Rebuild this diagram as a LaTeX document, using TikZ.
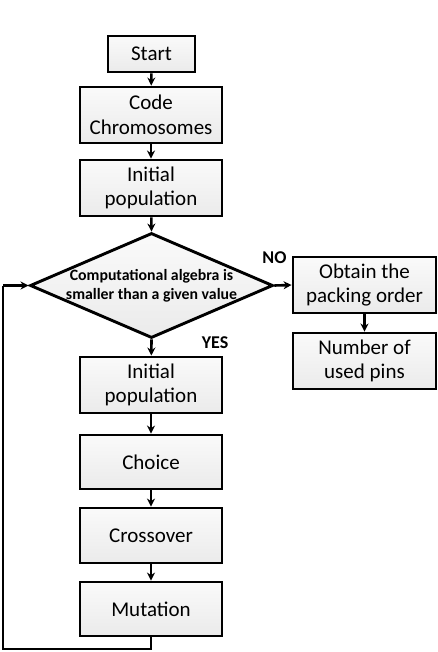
\documentclass[tikz,border=0pt]{standalone}
\usepackage{fontspec}
\setmainfont{Carlito}
\usetikzlibrary{shapes.geometric,arrows.meta,calc}
\begin{document}
\begin{tikzpicture}[x=1pt,y=-1pt,
  box/.style={draw=black, line width=2.9pt, top color=gray!4, bottom color=gray!16,
    minimum width=142pt, minimum height=56pt, inner sep=0pt, align=center,
    font=\fontsize{21}{24.5}\selectfont},
  decbox/.style={draw=black, line width=2.9pt, diamond, top color=gray!4, bottom color=gray!16,
    minimum width=243pt, minimum height=105pt, inner sep=0pt, aspect=2.3},
  dectxt/.style={align=center, inner sep=0pt, font=\fontsize{15.8}{19.5}\selectfont\bfseries},
  lbl/.style={inner sep=0pt, font=\fontsize{18}{20}\selectfont\bfseries},
  arr/.style={line width=2.6pt, -{Stealth[length=8pt,width=8pt]}},
  loopline/.style={line width=2.9pt}
]
\useasboundingbox (0,0) rectangle (438,652);
\node[box, minimum width=87pt, minimum height=36pt] (start) at (151.5,54) {Start};
\node[box] (code) at (151,115) {Code\\Chromosomes};
\node[box] (init1) at (151,188) {Initial\\population};
\node[decbox] (dec) at (151.5,285.5) {};
\node[dectxt] (dectext) at (151.5,286) {Computational algebra is\\smaller than a given value};
\node[box, minimum width=143pt] (obtain) at (364.5,285) {Obtain the\\packing order};
\node[box, minimum width=143pt] (number) at (364.5,361) {Number of\\used pins};
\node[box] (init2) at (151,385) {Initial\\population};
\node[box, minimum height=54pt] (choice) at (151,462) {Choice};
\node[box, minimum height=55pt] (cross) at (151,535.5) {Crossover};
\node[box, minimum height=54pt] (mut) at (151,609) {Mutation};
\node[lbl] (no) at (274.5,258) {NO};
\node[lbl] (yes) at (215,343) {YES};
\coordinate (lb) at (151,649);
\coordinate (lc) at (3,649);
\coordinate (lt) at (3,285.5);
\draw[arr] (start) -- (code);
\draw[arr] (code) -- (init1);
\draw[arr] (init1) -- (dec.north);
\draw[arr] (dec.east) -- (obtain.west);
\draw[arr] (obtain) -- (number);
\draw[arr] (dec.south) -- (init2);
\draw[arr] (init2) -- (choice);
\draw[arr] (choice) -- (cross);
\draw[arr] (cross) -- (mut);
\draw[loopline] (mut.south) -- (lb) -- (lc) -- (lt);
\draw[arr] (lt) -- (dec.west);
\end{tikzpicture}
\end{document}
